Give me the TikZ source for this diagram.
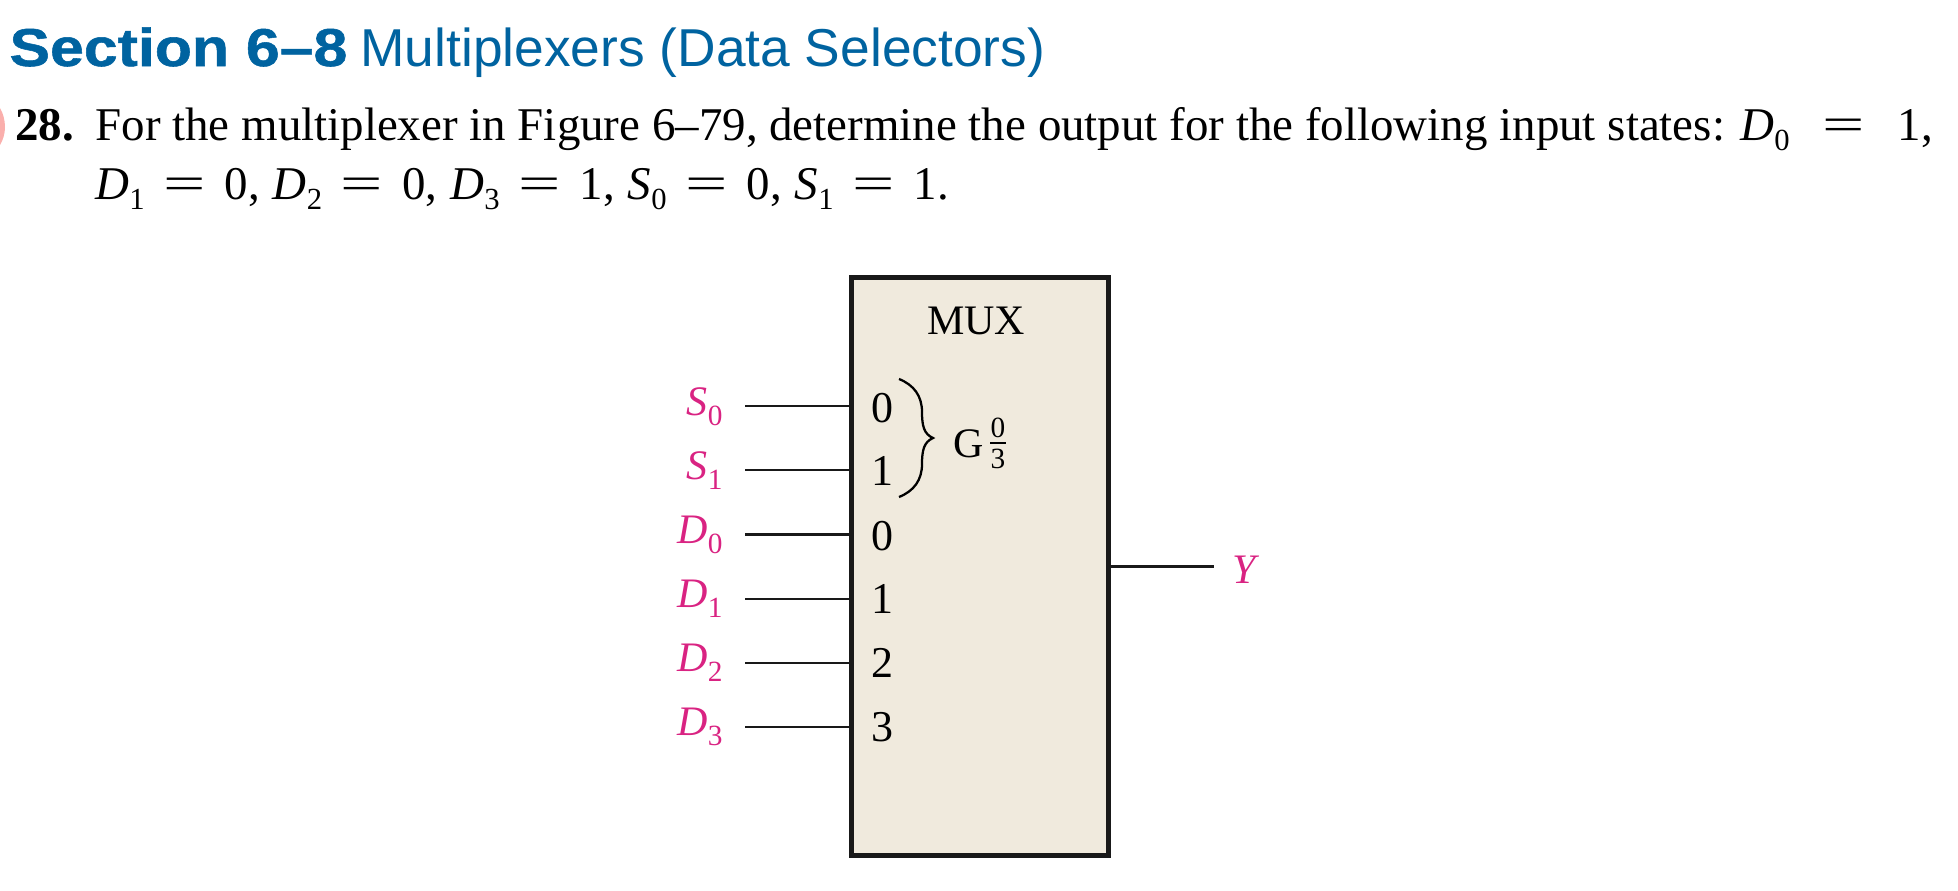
\documentclass[tikz,border=0pt]{standalone}
\usepackage{fontspec}
\usepackage{graphicx}
\setmainfont{Liberation Serif}
\newfontfamily\headfont[BoldFeatures={FakeStretch=1.14,FakeBold=1}]{Liberation Sans}
\definecolor{headblue}{RGB}{0,99,160}
\definecolor{labelpink}{RGB}{217,35,130}
\definecolor{muxfill}{RGB}{240,234,221}
\definecolor{blobpink}{RGB}{250,175,172}
\newcommand{\subvar}[3][22]{\textit{#2}\raisebox{-8pt}{\fontsize{#1}{#1}\selectfont #3}}
\newcommand{\eqsign}[1][0.4em]{\hspace{#1}\scalebox{1.6}[1]{=}\hspace{#1}}
\newcommand{\commagap}{,\hspace{0.28em}}
\tikzset{every picture/.style={line width=0.75pt},
  textbig/.style={font=\fontsize{35.2}{38}\selectfont,anchor=base west,inner sep=0.75pt},
  muxtext/.style={font=\fontsize{31.5}{34}\selectfont,inner sep=0.75pt},
  pinlabel/.style={font=\fontsize{31.5}{34}\selectfont,anchor=base east,inner sep=0.75pt,text=labelpink},
  portnum/.style={font=\fontsize{33}{36}\selectfont,anchor=base,inner sep=0.75pt},
  fracnum/.style={font=\fontsize{22}{24}\selectfont,anchor=base,inner sep=0.75pt},
  pinline/.style={line width=2.2pt,color=black!90}}

\begin{document}
\begin{tikzpicture}[x=0.75pt,y=0.75pt,yscale=-1,xscale=1]
    \useasboundingbox (0,0) rectangle (1958,890);

    %Shape: pale mark at the page edge
    \fill [blobpink] (0,108) .. controls (3,113) and (5,120) .. (5,127) .. controls (5,134) and (3,140) .. (0,145) -- cycle ;

    % Heading
    \draw (8,66) node (headbold) [anchor=base west,inner sep=0.75pt,text=headblue,font=\headfont\bfseries\fontsize{40}{42}\selectfont] {Section 6–8};
    \draw (359,66) node (headrest) [anchor=base west,inner sep=0.75pt,text=headblue,font=\headfont\fontsize{40}{42}\selectfont] {Multiplexers (Data Selectors)};

    % Question
    \draw (14,140) node (qnum) [textbig] {\textbf{28.}};
    \draw (94,140) node (qline) [textbig] {For the multiplexer in Figure 6–79, determine the output for the following input states: \subvar[23]{D}{0}\eqsign[0.7em]1,};
    \draw (94,199) node (qlinetwo) [textbig] {\subvar[23]{D}{1}\eqsign 0\commagap\subvar[23]{D}{2}\eqsign 0\commagap\subvar[23]{D}{3}\eqsign 1\commagap\subvar[23]{S}{0}\eqsign 0\commagap\subvar[23]{S}{1}\eqsign 1.};

    %Shape: Rectangle
    \draw (851.5,277.5) node (mux) [anchor=north west,draw=black!90,fill=muxfill,line width=3.75pt,minimum width=192.75pt,minimum height=433.5pt,inner sep=0pt,outer sep=0pt] {};

    % Text Node
    \draw (976,334) node (muxname) [muxtext,anchor=base] {MUX};
    \draw (952,457) node (gname) [muxtext,anchor=base west] {G};
    \draw (998,437) node (gtop) [fracnum] {0};
    \draw (998,468) node (gbottom) [fracnum] {3};
    \draw [line width=1.2pt] (990,443) -- (1006,443) ;

    %Brace
    \draw [line width=1.7pt] (899,379) .. controls (914,385) and (922,396) .. (922,412) .. controls (922,426) and (924,434) .. (933,438) .. controls (924,442) and (922,450) .. (922,464) .. controls (922,480) and (914,491) .. (899,497) ;

    % Port numbers
    \draw (882,422) node (selzero) [portnum] {0};
    \draw (882,485) node (selone) [portnum] {1};
    \draw (882,550) node (portzero) [portnum] {0};
    \draw (882,613) node (portone) [portnum] {1};
    \draw (882,677) node (porttwo) [portnum] {2};
    \draw (882,741) node (portthree) [portnum] {3};

    % Pin labels
    \draw (724,415) node (szero) [pinlabel] {\subvar{S}{0}};
    \draw (724,479) node (sone) [pinlabel] {\subvar{S}{1}};
    \draw (724,543) node (dzero) [pinlabel] {\subvar{D}{0}};
    \draw (724,607) node (done) [pinlabel] {\subvar{D}{1}};
    \draw (724,671) node (dtwo) [pinlabel] {\subvar{D}{2}};
    \draw (724,735) node (dthree) [pinlabel] {\subvar{D}{3}};
    \draw (1231,583) node (yout) [pinlabel,anchor=base west] {\textit{Y}};

    %Straight Lines
    \coordinate (szeroend) at (745,406);
    \coordinate (soneend) at (745,470);
    \coordinate (dzeroend) at (745,534.5);
    \coordinate (doneend) at (745,599);
    \coordinate (dtwoend) at (745,663);
    \coordinate (dthreeend) at (745,727);
    \coordinate (yend) at (1214,566.5);
    \draw [pinline] (szeroend) -- (szeroend -| mux.west) ;
    \draw [pinline] (soneend) -- (soneend -| mux.west) ;
    \draw [pinline] (dzeroend) -- (dzeroend -| mux.west) ;
    \draw [pinline] (doneend) -- (doneend -| mux.west) ;
    \draw [pinline] (dtwoend) -- (dtwoend -| mux.west) ;
    \draw [pinline] (dthreeend) -- (dthreeend -| mux.west) ;
    \draw [pinline] (yend -| mux.east) -- (yend) ;
\end{tikzpicture}
\end{document}
